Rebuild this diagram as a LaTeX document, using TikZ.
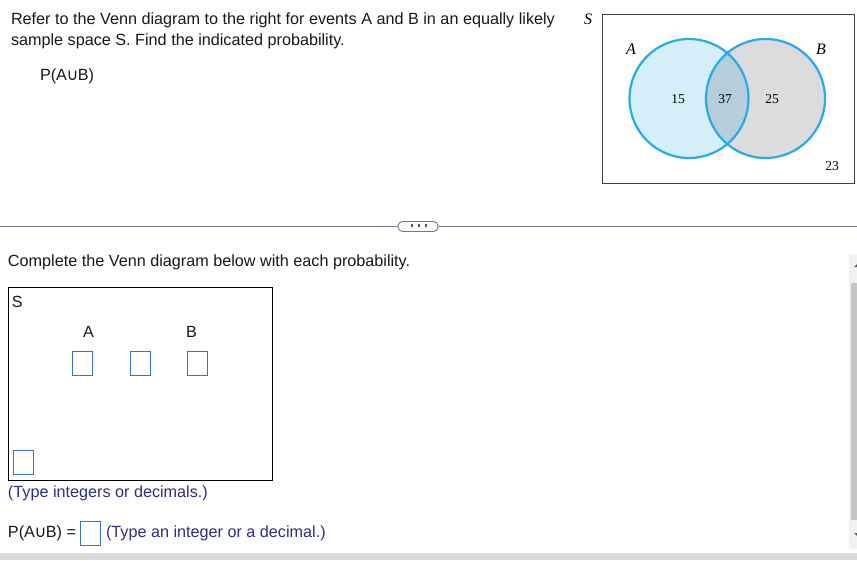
\documentclass[tikz,border=0pt]{standalone}
\usepackage{fontspec}
\setmainfont{Liberation Sans}
\newfontfamily\vennfont{Liberation Serif}
\newfontfamily\symfont{DejaVu Sans}
\usetikzlibrary{positioning}

\definecolor{ringblue}{HTML}{2AAAE6}
\definecolor{setAfill}{HTML}{D4EEFA}
\definecolor{setBfill}{HTML}{DCDCDE}
\definecolor{bothfill}{HTML}{B6CDDA}
\definecolor{hintblue}{HTML}{2E2E8A}
\definecolor{inputblue}{HTML}{3C6FD0}
\definecolor{rulegray}{HTML}{6F7D8C}

\newcommand{\cupsym}{{\symfont\kern-0.5pt∪\kern-0.5pt}}

\begin{document}
\begin{tikzpicture}[x=1pt, y=-1pt,
  every node/.style={inner sep=0pt, outer sep=0pt},
  txt/.style={anchor=base west, font=\fontsize{16.2}{19}\selectfont, text=black!90},
  hint/.style={txt, text=hintblue},
  vlabel/.style={font=\vennfont\fontsize{13.5}{16}\selectfont},
  vset/.style={font=\vennfont\itshape\fontsize{16}{18}\selectfont},
  ansbox/.style={draw=inputblue, line width=0.9pt, minimum width=20pt, minimum height=24pt},
  ring/.style={draw=ringblue, line width=2.2pt}
]
\useasboundingbox (0,0) rectangle (857,560);
\fill[white] (0,0) rectangle (857,560);

% question text
\node[txt] (q1) at (11,24) {Refer to the Venn diagram to the right for events A and B in an equally likely};
\node[txt] (q2) at (11,45) {sample space S. Find the indicated probability.};
\node[txt] (ask) at (40,80) {P(A\cupsym B)};

% given venn diagram
\draw[line width=0.8pt, black!75] (602,14) rectangle (854,183);
\fill[setAfill] (689,98.5) circle (59.5pt);
\fill[setBfill] (765.5,98.5) circle (59.5pt);
\begin{scope}
  \clip (689,98.5) circle (59.5pt);
  \fill[bothfill] (765.5,98.5) circle (59.5pt);
\end{scope}
\draw[ring] (689,98.5) circle (59.5pt);
\draw[ring] (765.5,98.5) circle (59.5pt);
\node[vset] (S) at (588,19) {S};
\node[vset] (A) at (631,49) {A};
\node[vset] (B) at (821,49) {B};
\node[vlabel] (onlyA) at (678,99) {15};
\node[vlabel] (AandB) at (725,99) {37};
\node[vlabel] (onlyB) at (772,99) {25};
\node[vlabel] (neither) at (832,166) {23};

% separator
\node[draw=rulegray, fill=gray!5, rounded corners=4.5pt, line width=0.9pt,
  minimum width=40pt, minimum height=10pt] (more) at (418,226.5) {};
\draw[rulegray, line width=0.8pt] (0,226.5) -- (more.west);
\draw[rulegray, line width=0.8pt] (more.east) -- (857,226.5);
\foreach \dx in {-7,0,7}
  \fill[rulegray!70!black] ([xshift=\dx pt]more.center) rectangle +(2.4pt,2.4pt);

% answer part
\node[txt] (task) at (8,266) {Complete the Venn diagram below with each probability.};
\draw[line width=0.8pt] (8,287) rectangle (272,480);
\node[txt] (S2) at (12,307) {S};
\node[txt] (A2) at (83,337) {A};
\node[txt] (B2) at (186,337) {B};
\node[ansbox] (inA) at (82.5,363) {};
\node[ansbox] (inAB) at (140,363) {};
\node[ansbox] (inB) at (197,363) {};
\node[ansbox] (inN) at (23,462) {};
\node[hint] (hint1) at (8,497) {(Type integers or decimals.)};

\node[txt] (ans) at (8,537) {P(A\cupsym B) =};
\node[ansbox, right=4pt of ans.east, anchor=west, yshift=-1pt] (inP) {};
\node[hint, right=6pt of inP.east, anchor=west, yshift=1pt] (hint2) {(Type an integer or a decimal.)};

% scrollbar and bottom bar
\fill[gray!10] (849,254) rectangle (857,549);
\fill[gray!45] (851,283) rectangle (857,520);
\fill[gray!70!black] (854,267) -- (857,264) -- (857,267) -- cycle;
\fill[gray!70!black] (854,533) -- (857,536) -- (857,533) -- cycle;
\fill[gray!30] (0,553) rectangle (857,560);
\end{tikzpicture}
\end{document}
